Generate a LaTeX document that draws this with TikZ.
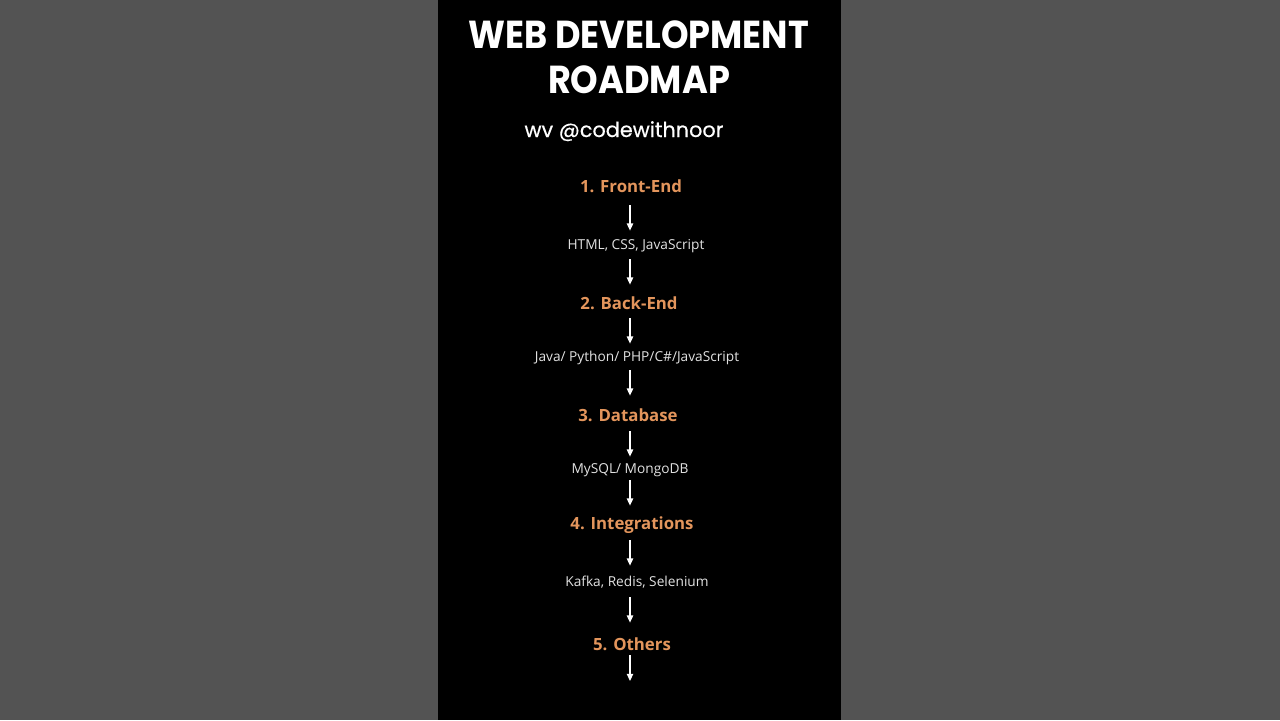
\documentclass[tikz,border=0pt]{standalone}
\usepackage{fontspec}
\setmainfont{Open Sans}
\newfontfamily\titlefont[FakeStretch=0.9]{Poppins}
\newfontfamily\headfont{Open Sans}
\newfontfamily\handlefont[FakeBold=0.4]{Poppins}
\usetikzlibrary{arrows.meta}
\definecolor{bggray}{HTML}{535353}
\definecolor{headorange}{HTML}{E3955C}
\definecolor{itemwhite}{HTML}{E2E2E2}
\begin{document}
\begin{tikzpicture}[x=0.5pt,y=-0.5pt,
  titletext/.style={text=white,font=\titlefont\bfseries\fontsize{19.5}{22}\selectfont,inner sep=0pt,anchor=base},
  headtext/.style={text=headorange,font=\headfont\bfseries\fontsize{8.4}{10}\selectfont,inner sep=0pt,anchor=base,text height=6pt,text depth=0pt},
  itemtext/.style={text=itemwhite,font=\fontsize{6.85}{8}\selectfont,inner sep=0pt,anchor=base,text height=4.5pt,text depth=1.25pt},
  arr/.style={draw=white,line width=0.6pt,-{Triangle[width=3.2pt,length=3.6pt]}}]
\fill[bggray] (0,0) rectangle (1280,720);
\fill[black] (438,0) rectangle (841,720);
\useasboundingbox (0,0) rectangle (1280,720);
\node[titletext] (t1) at (639,48) {WEB DEVELOPMENT};
\node[titletext] (t2) at (639,93) {ROADMAP};
\node[text=white,font=\handlefont\fontsize{10.4}{13}\selectfont,inner sep=0pt,anchor=base] (h) at (624,137) {wv @codewithnoor};
\node[headtext] (n1) at (631,192) {1. Front-End};
\node[itemtext] (i1) at (636,249.5) {HTML, CSS, JavaScript};
\node[headtext] (n2) at (629,309) {2. Back-End};
\node[itemtext] (i2) at (637,361.5) {Java/ Python/ PHP/C\#/JavaScript};
\node[headtext] (n3) at (628,421) {3. Database};
\node[itemtext] (i3) at (630,473.5) {MySQL/ MongoDB};
\node[headtext] (n4) at (632,529) {4. Integrations};
\node[itemtext] (i4) at (637,586.5) {Kafka, Redis, Selenium};
\node[headtext] (n5) at (632,650) {5. Others};
\coordinate (ax) at (630,0);
\coordinate (endpt) at (630,681);
\draw[arr,shorten <=6.5pt,shorten >=4.75pt] (n1.south -| ax) -- (i1.north -| ax);
\draw[arr,shorten <=3.5pt,shorten >=6pt] (i1.south -| ax) -- (n2.north -| ax);
\draw[arr,shorten <=4.5pt,shorten >=4.25pt] (n2.south -| ax) -- (i2.north -| ax);
\draw[arr,shorten <=3pt,shorten >=6.5pt] (i2.south -| ax) -- (n3.north -| ax);
\draw[arr,shorten <=5pt,shorten >=3.75pt] (n3.south -| ax) -- (i3.north -| ax);
\draw[arr,shorten <=2pt,shorten >=5.5pt] (i3.south -| ax) -- (n4.north -| ax);
\draw[arr,shorten <=5.5pt,shorten >=5.75pt] (n4.south -| ax) -- (i4.north -| ax);
\draw[arr,shorten <=4pt,shorten >=7.5pt] (i4.south -| ax) -- (n5.north -| ax);
\draw[arr,shorten <=2.5pt] (n5.south -| ax) -- (endpt);
\end{tikzpicture}
\end{document}
